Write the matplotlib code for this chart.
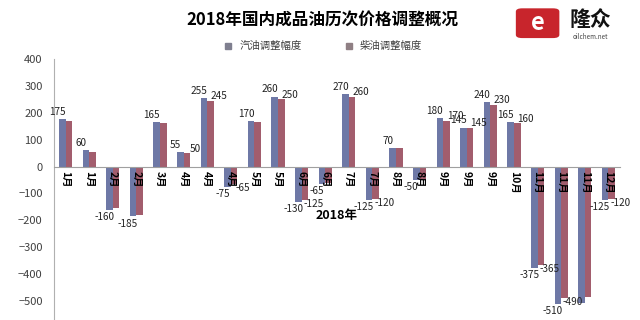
import numpy as np
import matplotlib
matplotlib.use("Agg")
import matplotlib.pyplot as plt
from matplotlib.patches import FancyBboxPatch
from matplotlib.lines import Line2D

plt.rcParams['font.family'] = ['Noto Sans CJK SC', 'DejaVu Sans']

# data
months = ["1月", "1月", "2月", "2月", "3月", "4月", "4月", "4月", "5月", "5月",
          "6月", "6月", "7月", "7月", "8月", "8月", "9月", "9月", "9月", "10月",
          "11月", "11月", "11月", "12月"]
gasoline = [175, 60, -160, -185, 165, 55, 255, -75, 170, 260,
            -130, -65, 270, -125, 70, -50, 180, 145, 240, 165,
            -375, -510, -505, -125]
diesel = [170, 55, -155, -180, 160, 50, 245, -65, 165, 250,
          -125, -60, 260, -120, 70, -50, 170, 145, 230, 160,
          -365, -490, -485, -120]

# which data labels are visible in the source chart
gas_shown = [1, 1, 1, 1, 1, 1, 1, 1, 1, 1, 1, 1, 1, 1, 1, 1, 1, 1, 1, 1, 1, 1, 0, 1]
diesel_shown = [0, 0, 0, 0, 0, 1, 1, 1, 0, 1, 1, 0, 1, 1, 0, 0, 1, 1, 1, 1, 1, 1, 0, 1]

title = "2018年国内成品油历次价格调整概况"
gas_name = "汽油调整幅度"
diesel_name = "柴油调整幅度"
x_title = "2018年"

gas_color = "#6e78a6"
diesel_color = "#a25d6d"

fig = plt.figure(figsize=(6.4, 3.2), dpi=100)
ax = fig.add_axes([0.084, 0.0, 0.885, 0.816])

x = np.arange(len(months))
w = 0.28
ax.bar(x - w / 2, gasoline, width=w, color=gas_color, edgecolor="none")
ax.bar(x + w / 2, diesel, width=w, color=diesel_color, edgecolor="none")

# data labels, gasoline a bit left, diesel a bit right
fs = 7.2
for xi, g, d, gs, ds in zip(x, gasoline, diesel, gas_shown, diesel_shown):
    if gs:
        if g >= 0:
            ax.text(xi - 0.35, g + 8, f"{g}", ha="center", va="bottom", fontsize=fs, color="#222222")
        else:
            ax.text(xi - 0.35, g - 8, f"{g}", ha="center", va="top", fontsize=fs, color="#222222")
    if ds:
        if d >= 0:
            ax.text(xi + 0.5, d - 2, f"{d}", ha="center", va="bottom", fontsize=fs, color="#222222")
        else:
            ax.text(xi + 0.5, d + 4, f"{d}", ha="center", va="top", fontsize=fs, color="#222222")

ax.set_xlim(-0.5, len(months) - 0.5)
ax.set_ylim(-570, 400)
ax.set_yticks(np.arange(-500, 401, 100))
ax.tick_params(axis="y", length=0, labelsize=8, labelcolor="#404040", pad=8)

ax.spines["bottom"].set_position(("data", 0))
ax.spines["bottom"].set_color("#a0a0a0")
ax.spines["left"].set_color("#b0b0b0")
ax.spines["top"].set_visible(False)
ax.spines["right"].set_visible(False)
ax.set_xticks(x)
ax.set_xticklabels(months, rotation=-90, fontsize=7.5, fontweight="bold", va="top")
ax.tick_params(axis="x", length=0, pad=3)

ax.text(0.50, 0.40, x_title, transform=ax.transAxes, ha="center", va="center",
        fontsize=9, fontweight="bold")

fig.text(0.503, 0.935, title, ha="center", va="center", fontsize=12, fontweight="bold")

handles = [Line2D([], [], marker="s", linestyle="none", markersize=4, color="#7f7f8f"),
           Line2D([], [], marker="s", linestyle="none", markersize=4, color="#8f7f84")]
fig.legend(handles, [gas_name, diesel_name], loc="center", bbox_to_anchor=(0.5, 0.855),
           ncol=2, frameon=False, fontsize=7.5, handletextpad=0.1, columnspacing=3.5,
           labelcolor="#404040")

# logo top right
fig.patches.append(FancyBboxPatch((0.81, 0.885), 0.06, 0.085,
                                  boxstyle="round,pad=0.004,rounding_size=0.01",
                                  transform=fig.transFigure, facecolor="#c8252c",
                                  edgecolor="none"))
fig.text(0.84, 0.927, "e", ha="center", va="center", fontsize=17, fontweight="bold", color="white")
fig.text(0.922, 0.94, "隆众", ha="center", va="center", fontsize=15, fontweight="bold", color="#111111")
fig.text(0.922, 0.885, "oilchem.net", ha="center", va="center", fontsize=4.5, color="#444444")

fig.savefig("out.png", dpi=100)
